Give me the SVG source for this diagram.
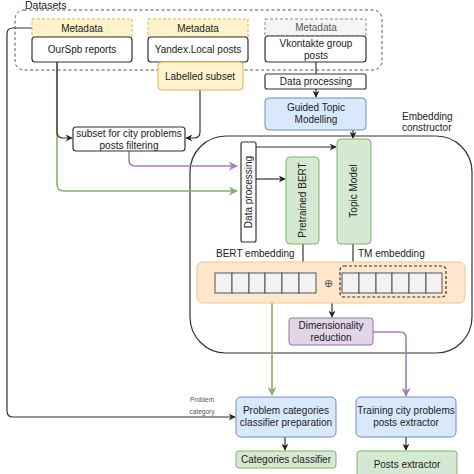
<svg xmlns="http://www.w3.org/2000/svg" width="474" height="474" viewBox="0 0 474 474">
<defs>
<style>
text{font-family:"Liberation Sans",Arial,sans-serif;font-size:10px;fill:#222;}
.c{text-anchor:middle;}
.small{font-size:6.5px;fill:#555;}
.gray{fill:#555;}
.box{fill:#fff;stroke:#333;stroke-width:1.2;}
.meta{fill:#fff2cc;stroke:#d6b656;stroke-width:1;stroke-dasharray:3 2;}
.metag{fill:#f5f5f5;stroke:#888;stroke-width:1;stroke-dasharray:3 2;}
.yel{fill:#fff2cc;stroke:#d6b656;stroke-width:1;}
.blue{fill:#dae8fc;stroke:#6c8ebf;stroke-width:1;}
.green{fill:#d5e8d4;stroke:#82b366;stroke-width:1;}
.purple{fill:#e1d5e7;stroke:#9673a6;stroke-width:1;}
.cell{fill:#f2f2f2;stroke:#444;stroke-width:0.9;}
.ln{fill:none;stroke:#333;stroke-width:1.2;}
.lg{fill:none;stroke:#82b366;stroke-width:1.6;}
.lp{fill:none;stroke:#a680b8;stroke-width:1.6;}
</style>
<marker id="ab" viewBox="0 0 10 10" refX="9" refY="5" markerWidth="7" markerHeight="7" markerUnits="userSpaceOnUse" orient="auto"><path d="M0,0 L10,5 L0,10 L3,5 z" fill="#222"/></marker>
<marker id="ag" viewBox="0 0 10 10" refX="9" refY="5" markerWidth="9" markerHeight="9" markerUnits="userSpaceOnUse" orient="auto"><path d="M0,0 L10,5 L0,10 L3,5 z" fill="#82b366"/></marker>
<marker id="ap" viewBox="0 0 10 10" refX="9" refY="5" markerWidth="9" markerHeight="9" markerUnits="userSpaceOnUse" orient="auto"><path d="M0,0 L10,5 L0,10 L3,5 z" fill="#a680b8"/></marker>
</defs>

<g id="datasets">
<rect x="15" y="10" width="367" height="60" rx="9" fill="none" stroke="#555" stroke-width="1" stroke-dasharray="3 2.5"/>
<text x="25" y="8.5" style="font-size:10.5px">Datasets</text>
</g>

<g id="embedding-constructor">
<rect x="190" y="136" width="282" height="217" rx="36" fill="none" stroke="#333" stroke-width="1.2"/>
<text x="402" y="120">Embedding</text>
<text x="402" y="131">constructor</text>
</g>

<g id="connectors">
<path class="lg" d="M57,62 V184 Q57,191 64,191 H237" marker-end="url(#ag)"/>
<path class="ln" d="M57,62 V132 Q57,138 63,138 H72" marker-end="url(#ab)"/>
<path class="ln" d="M200,90 V132 Q200,138 194,138 H186" marker-end="url(#ab)"/>
<path class="lp" d="M129,151 V160 Q129,166 135,166 H237" marker-end="url(#ap)"/>
<path class="ln" d="M316,62 V74"/>
<path class="ln" d="M316,89 V97" marker-end="url(#ab)"/>
<path class="ln" d="M353,130 V138" marker-end="url(#ab)"/>
<path class="ln" d="M256,147 H336" marker-end="url(#ab)"/>
<path class="ln" d="M256,179 H285" marker-end="url(#ab)"/>
<path class="ln" d="M303,244 V271" marker-end="url(#ab)"/>
<path class="ln" d="M353,244 V271" marker-end="url(#ab)"/>
<path class="ln" d="M332,303 V317" marker-end="url(#ab)"/>
<path class="lg" d="M340,292 H279 Q272,292 272,299 V395" marker-end="url(#ag)"/>
<path class="lp" d="M373,332 H400 Q406,332 406,338 V396" marker-end="url(#ap)"/>
<path class="ln" d="M32,28 H13 Q7,28 7,34 V411 Q7,417 13,417 H235" marker-end="url(#ab)"/>
<path class="ln" d="M285,437 V450" marker-end="url(#ab)"/>
<path class="ln" d="M406,437 V450" marker-end="url(#ab)"/>
<text class="c small" x="202" y="402">Problem</text>
<text class="c small" x="202" y="414">category</text>
</g>

<g id="ourspb">
<rect class="meta" x="32" y="19" width="100" height="18"/>
<text class="c" x="82" y="32">Metadata</text>
<rect class="box" x="32" y="37" width="100" height="25" rx="3"/>
<text class="c" x="82" y="53">OurSpb reports</text>
</g>

<g id="yandex">
<rect class="meta" x="148" y="19" width="100" height="18"/>
<text class="c" x="198" y="32">Metadata</text>
<rect class="box" x="148" y="37" width="100" height="25" rx="3"/>
<text class="c" x="198" y="53">Yandex.Local posts</text>
</g>

<g id="labelled-subset">
<rect class="yel" x="158" y="62" width="85" height="28" rx="4"/>
<text class="c" x="200" y="80">Labelled subset</text>
</g>

<g id="vkontakte">
<rect class="metag" x="265" y="19" width="101" height="17"/>
<text class="c gray" x="316" y="31">Metadata</text>
<rect class="box" x="265" y="36" width="101" height="26" rx="3"/>
<text class="c" x="316" y="47">Vkontakte group</text>
<text class="c" x="316" y="59">posts</text>
</g>

<g id="data-processing-top">
<rect class="box" x="265" y="74" width="101" height="15" rx="2"/>
<text class="c" x="316" y="85">Data processing</text>
</g>

<g id="guided-topic-modelling">
<rect class="blue" x="265" y="98" width="101" height="32" rx="4"/>
<text class="c" x="316" y="111">Guided Topic</text>
<text class="c" x="316" y="123">Modelling</text>
</g>

<g id="subset-filtering">
<rect class="box" x="73" y="127" width="112" height="24" rx="3"/>
<text class="c" x="129" y="137">subset for city problems</text>
<text class="c" x="129" y="149">posts filtering</text>
</g>

<g id="data-processing-vertical">
<rect class="box" x="241" y="142" width="15" height="100" rx="2"/>
<text class="c" transform="translate(252,192) rotate(-90)">Data processing</text>
</g>

<g id="pretrained-bert">
<rect class="green" x="286" y="157" width="33" height="87" rx="4"/>
<text class="c" transform="translate(306,200) rotate(-90)">Pretrained BERT</text>
</g>

<g id="topic-model">
<rect class="green" x="337" y="139" width="34" height="105" rx="4"/>
<text class="c" transform="translate(357,191) rotate(-90)">Topic Model</text>
</g>

<g id="embedding-concat">
<text x="216" y="257">BERT embedding</text>
<text x="358" y="257">TM embedding</text>
<rect x="197" y="262" width="268" height="41" rx="6" fill="#ffe6cc" stroke="#f0c58a" stroke-width="1"/>
<rect class="cell" x="215" y="273" width="17" height="20"/>
<rect class="cell" x="232" y="273" width="17" height="20"/>
<rect class="cell" x="249" y="273" width="16" height="20"/>
<rect class="cell" x="265" y="273" width="17" height="20"/>
<rect class="cell" x="282" y="273" width="17" height="20"/>
<rect class="cell" x="299" y="273" width="17" height="20"/>
<text class="c gray" x="328" y="287" style="font-size:11px">⊕</text>
<rect class="cell" x="342" y="273" width="17" height="20"/>
<rect class="cell" x="359" y="273" width="17" height="20"/>
<rect class="cell" x="376" y="273" width="16" height="20"/>
<rect class="cell" x="392" y="273" width="17" height="20"/>
<rect class="cell" x="409" y="273" width="17" height="20"/>
<rect class="cell" x="426" y="273" width="16" height="20"/>
<rect x="340" y="266" width="106" height="31" rx="4" fill="none" stroke="#333" stroke-width="1.2" stroke-dasharray="3 2"/>
</g>

<g id="dimensionality-reduction">
<rect class="purple" x="289" y="318" width="84" height="27" rx="3"/>
<text class="c" x="331" y="329">Dimensionality</text>
<text class="c" x="331" y="341">reduction</text>
</g>

<g id="problem-categories">
<rect class="blue" x="236" y="397" width="100" height="40" rx="5"/>
<text class="c" x="286" y="414">Problem categories</text>
<text class="c" x="286" y="426">classifier preparation</text>
</g>

<g id="training-extractor">
<rect class="blue" x="356" y="397" width="100" height="40" rx="5"/>
<text class="c" x="406" y="414">Training city problems</text>
<text class="c" x="406" y="426">posts extractor</text>
</g>

<g id="categories-classifier">
<rect class="green" x="236" y="451" width="100" height="17" rx="3"/>
<text class="c" x="286" y="463">Categories classifier</text>
</g>

<g id="posts-extractor">
<rect class="green" x="357" y="451" width="100" height="28" rx="3"/>
<text class="c" x="407" y="468">Posts extractor</text>
</g>
</svg>
